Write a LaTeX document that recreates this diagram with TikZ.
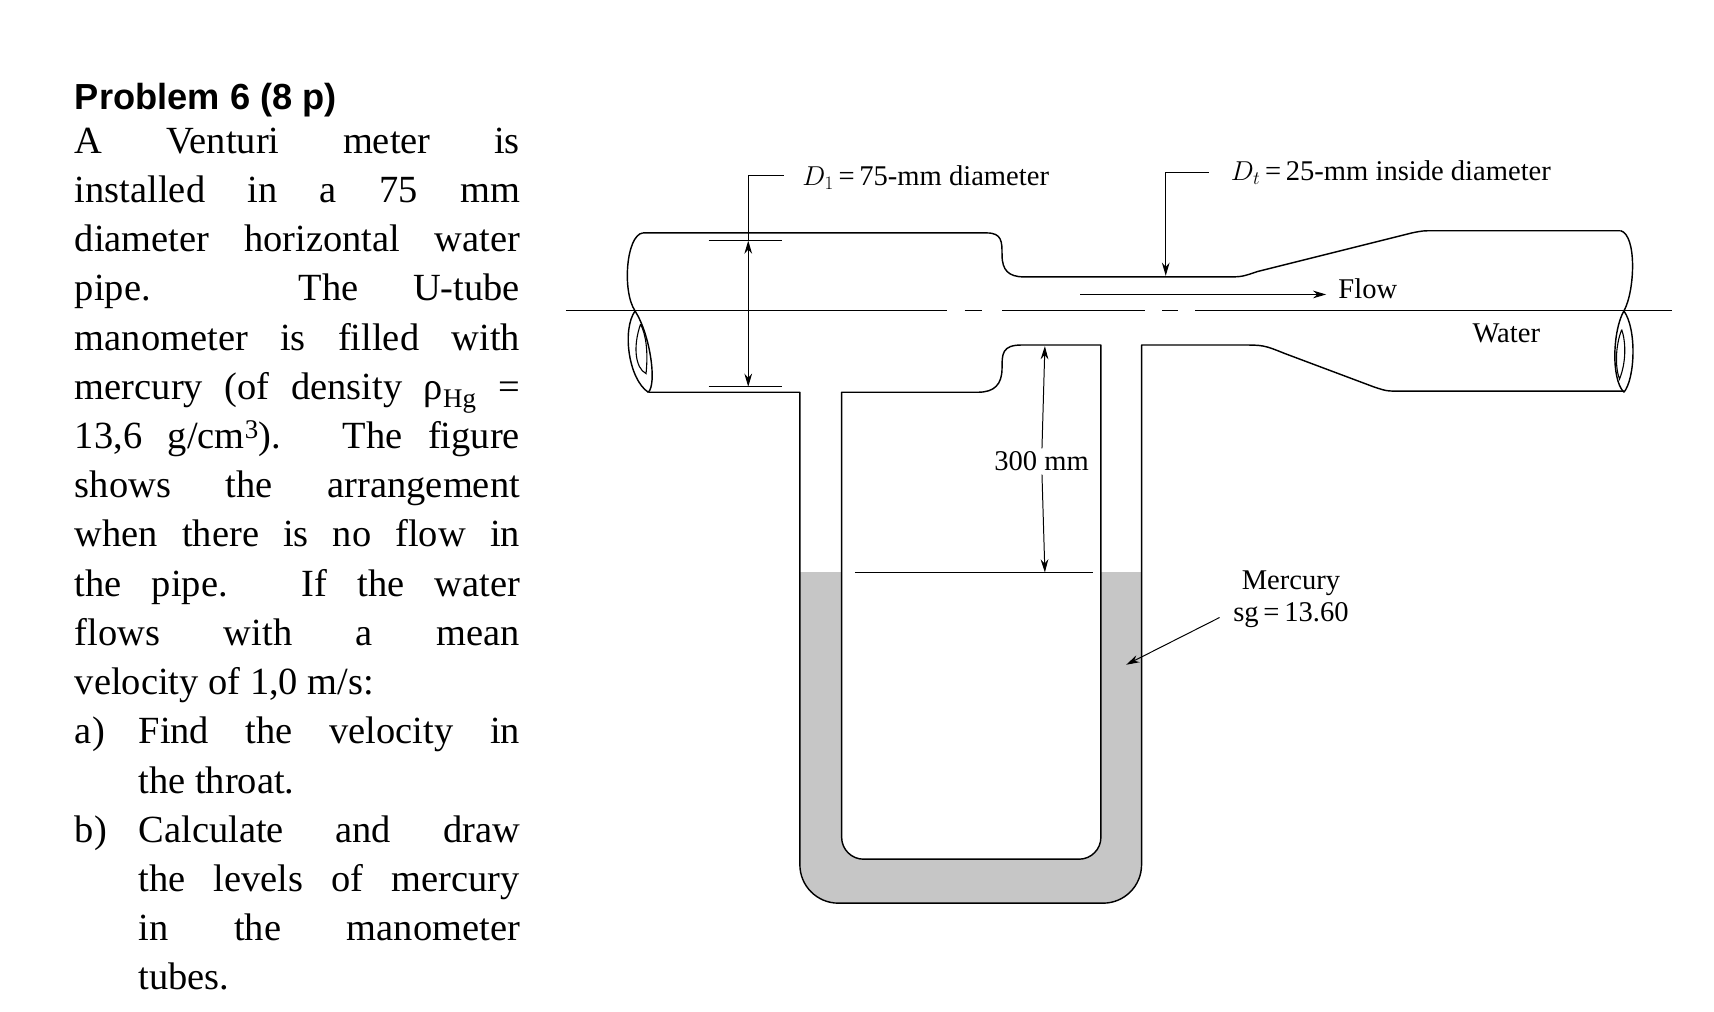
\documentclass[tikz,border=0pt]{standalone}
\usepackage{fontspec}
\setmainfont{Liberation Serif}
\newfontfamily\titlefont{Liberation Sans}
\usetikzlibrary{arrows.meta}
\begin{document}
\begin{tikzpicture}[x=1pt,y=-1pt,
  pipe/.style={line width=1.3pt,line join=round},
  thin/.style={line width=1pt},
  dim/.style={line width=0.9pt,-{Stealth[length=12pt,width=7pt]}},
  lbl/.style={font=\fontsize{26}{29}\selectfont,inner sep=0pt}]
\useasboundingbox (0,0) rectangle (1560,921);
% text
\node[anchor=base west,inner sep=0pt,font=\titlefont\bfseries\fontsize{33}{40}\selectfont] (title) at (68,100) {Problem 6 (8 p)};
\node[anchor=north west,inner sep=0pt,text width=405pt,align=justify,font=\fontsize{35}{44.8}\selectfont] (body) at (68,116) {%
\parindent=0pt
A Venturi meter is\linebreak
installed in a 75~mm\linebreak
diameter horizontal water\linebreak
pipe. The U-tube\linebreak
manometer is filled with\linebreak
mercury (of density ρ\textsubscript{Hg} =\linebreak
13,6~g/cm\textsuperscript{3}). The figure\linebreak
shows the arrangement\linebreak
when there is no flow in\linebreak
the pipe. If the water\linebreak
flows with a mean\linebreak
velocity of 1,0 m/s:\par
\hangindent=58pt\hangafter=1\makebox[58pt][l]{a)}Find the velocity in\linebreak the throat.\par
\hangindent=58pt\hangafter=1\makebox[58pt][l]{b)}Calculate and draw\linebreak the levels of mercury\linebreak in the manometer\linebreak tubes.\par};
% mercury
\fill[gray!45,rounded corners=35pt] (728,450) rectangle (1039,822);
\fill[white,rounded corners=20pt] (766,450) rectangle (1002,782);
\fill[white] (720,400) rectangle (1045,521);
% manometer outline
\draw[pipe] (590,357) -- (728,357) [rounded corners=35pt] -- (728,822) -- (1039,822) [sharp corners] -- (1039,314) -- (1129,314) .. controls (1150,314) .. (1170,322) -- (1250,352) .. controls (1262,356) .. (1275,356) -- (1478,356);
\draw[pipe] (890,357) -- (766,357) [rounded corners=20pt] -- (766,782) -- (1002,782) [sharp corners] -- (1002,314) -- (930,314) .. controls (912,314) and (912,322) .. (912,335)
  .. controls (912,350) and (905,357) .. (890,357);
% top
\draw[pipe] (585,212) -- (898,212) .. controls (912,212) and (912,220) .. (912,232) .. controls (912,246) and (918,252) .. (932,252)
  -- (1117,252) .. controls (1130,252) .. (1145,247) -- (1285,212) .. controls (1295,210) .. (1305,210) -- (1475,210);
% pipe ends
\draw[pipe] (585,212) .. controls (570,214) and (566,265) .. (578,283) .. controls (592,305) and (598,350) .. (590,357);
\draw[pipe] (578,283) .. controls (566,300) and (572,345) .. (590,357);
\draw[thin] (583,295) .. controls (576,315) and (578,335) .. (588,340) .. controls (590,320) and (588,305) .. (583,295);
\draw[pipe] (1475,210) .. controls (1490,214) and (1488,265) .. (1478,283) .. controls (1468,300) and (1466,345) .. (1478,357);
\draw[pipe] (1478,283) .. controls (1490,300) and (1488,345) .. (1478,357);
\draw[thin] (1476,300) .. controls (1470,315) and (1470,335) .. (1474,345) .. controls (1480,330) and (1480,312) .. (1476,300);
% centerline
\draw[thin] (515,283) -- (862,283) (878,283) -- (894,283) (912,283) -- (1042,283) (1058,283) -- (1072,283) (1088,283) -- (1522,283);
% flow
\draw[thin,-{Stealth[length=12pt,width=7pt]}] (983,268) -- (1207,268);
\node[lbl,anchor=west] (flow) at (1218,263) {Flow};
\node[lbl,anchor=west] (water) at (1340,303) {Water};
% D1
\draw[thin] (645,219) -- (712,219) (645,352) -- (712,352);
\draw[dim,{Stealth[length=12pt,width=7pt]}-{Stealth[length=12pt,width=7pt]}] (681,219) -- (681,352);
\draw[thin] (681,219) -- (681,160) -- (714,160);
\node[lbl,anchor=west] (d1) at (730,162) {$D_1$\,=\,75-mm diameter};
% Dt
\draw[dim] (1100,157) -- (1061,157) -- (1061,251);
\node[lbl,anchor=west] (dt) at (1120,157) {$D_t$\,=\,25-mm inside diameter};
% 300 mm
\draw[thin] (778,521) -- (995,521);
\coordinate (dtop) at (951,315);
\coordinate (dbot) at (951,521);
\node[lbl,fill=white,inner sep=3pt] (h) at (948,420) {300 mm};
\draw[dim] (h) -- (dtop);
\draw[dim] (h) -- (dbot);
% mercury label
\node[lbl,align=center] (merc) at (1175,545) {Mercury\\sg\,=\,13.60};
\draw[dim] (1110,562) -- (1025,605);
\end{tikzpicture}
\end{document}
